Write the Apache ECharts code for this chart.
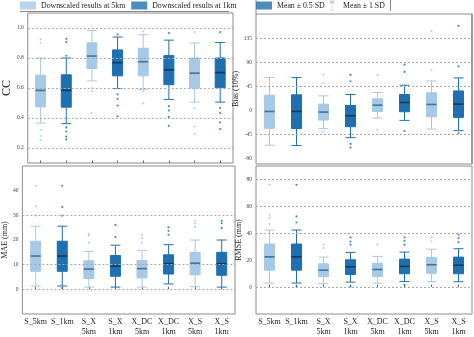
<!DOCTYPE html>
<html><head><meta charset="utf-8">
<script src="https://cdn.jsdelivr.net/npm/echarts@6/dist/echarts.min.js"></script>
<style>html,body{margin:0;padding:0;background:#fff}#c{width:474px;height:337px}</style>
</head><body><div id="c"></div>
<script>
const categories = ['S_5km','S_1km','S_X\n5km','S_X\n1km','X_DC\n5km','X_DC\n1km','X_S\n5km','X_S\n1km'];
const cats5 = [0,2,4,6];
const cats1 = [1,3,5,7];

// box values: [lower whisker, Q1, median, Q3, upper whisker]
const ccBox5 = [[0.366,0.474,0.584,0.685,0.80],[0.647,0.73,0.813,0.901,0.984],[0.591,0.681,0.775,0.865,0.955],[0.506,0.60,0.699,0.80,0.90]];
const ccBox1 = [[0.362,0.472,0.584,0.688,0.80],[0.596,0.681,0.769,0.854,0.94],[0.524,0.622,0.721,0.816,0.919],[0.506,0.602,0.703,0.80,0.903]];
const ccOut5 = [[0.924,0.90,0.32,0.28,0.254],[0.60,0.58,0.434],[0.978,0.578,0.497],[0.973,0.465,0.344,0.294]];
const ccOut1 = [[0.928,0.906,0.815,0.337,0.31,0.276,0.258],[0.957,0.557,0.528,0.483,0.411],[0.966,0.479,0.45,0.407,0.348],[0.973,0.467,0.434,0.371,0.326]];

const biasBox5 = [[-65,-33.4,-1.9,28.5,61.3],[-34,-18,-3.1,11.8,27.2],[-14.2,-1.9,9.9,21.7,33.4],[-34.7,-11.8,11.1,32.8,55]];
const biasBox1 = [[-65.6,-34,-1.9,29.1,61.3],[-50.8,-30.3,-9.9,9.3,29.7],[-18.6,-2.5,14.9,29.7,47],[-37.8,-13,11.8,36.5,60.7]];
const biasOut5 = [[],[66.9,51,-39.6],[66.3,-36.5],[75,148]];
const biasOut1 = [[],[66.3,54.5,-62.5,-69.4],[85.5,71.8,-38.4],[82.4,158,-42.7]];

const maeBox5 = [[1.35,7.3,13.5,19.5,25.6],[0.9,4.4,8.2,11.6,15.4],[0.9,4.6,8.4,11.7,15.8],[1.1,5.9,10.6,15.0,20.0]];
const maeBox1 = [[1.35,7.3,13.5,19.5,25.6],[0.9,5.3,9.4,13.7,17.9],[2.2,6.2,10.4,14.0,18.1],[0.9,5.7,10.4,15.0,20.0]];
const maeOut5 = [[42,33.6,29.9],[22.5,21.8,18.9],[22.1,20.8,18.9],[27.8,26.7,25.3]];
const maeOut1 = [[42,33.4,29.9,0.5],[26.1,21.2],[25.1,23.7,22.1],[27.8,26.8,24.8]];

const rmseBox5 = [[3,12.6,22.5,32,42.4],[2.5,7.7,12.6,17.3,22.3],[3,7.9,13.1,17.8,22.8],[4.2,10.2,16.6,22,28.2]];
const rmseBox1 = [[3,12.6,22.5,32,42.4],[3.7,9.4,15.1,20.3,25.8],[4.2,9.9,15.4,20.8,26],[4,9.9,16.3,22.3,28.5]];
const rmseOut5 = [[76,53.7,51.3,46.8],[31.5,29],[31.5],[36.9,33.9]];
const rmseOut1 = [[76,52.5,48,0.5],[36.9,33.9,31.5,0.5],[36.9,34.4,31.5,1.7],[38.9,36.4,33.4]];

const ccTicks = [0.2,0.4,0.6,0.8,1.0];
const biasTicks = [-90,-45,0,45,90,135];
const maeTicks = [0,10,20,30,40];
const rmseTicks = [0,20,40,60,80];

const ccGrid = [0.2,0.4,0.6,0.8,1.0];
const biasGrid = [-45,45,90,135];
const maeGrid = [0,10,30];
const rmseGrid = [0,40,60,80];

const LIGHT = '#a6c9e6', DARK = '#1f70b0';
const MED_L = '#2a5e88', MED_D = '#0c2c48';
const FONT = 'Liberation Serif';
const NAME5 = 'Downscaled results at 5km', NAME1 = 'Downscaled results at 1km';

function medData(arr, cats){ return arr.map((b,i)=>[cats[i], b[2]]); }
function outData(arr, cats){ const r=[]; arr.forEach((vs,i)=>vs.forEach(v=>r.push([cats[i], v]))); return r; }
function near(v, list){ for (const t of list) if (Math.abs(v-t) < 1e-6) return t; return null; }
function boxItems(b5, b1){
  const items = new Array(categories.length);
  b5.forEach((b,i)=>{ items[cats5[i]] = {value:b, itemStyle:{color:LIGHT, borderColor:LIGHT}}; });
  b1.forEach((b,i)=>{ items[cats1[i]] = {value:b, itemStyle:{color:DARK, borderColor:DARK}}; });
  return items;
}

const grids = [
  {left:18, top:13, width:215, height:150},
  {left:256, top:14, width:216, height:150},
  {left:18, top:166, width:217, height:148},
  {left:256, top:166, width:216, height:148}
].map(g=>Object.assign({show:true, borderColor:'#8c8c8c', borderWidth:1, backgroundColor:'transparent'}, g));

const xAxes = [0,1,2,3].map(i=>({
  type:'category', gridIndex:i, data:categories, boundaryGap:true,
  axisLine:{show:false},
  axisTick:{show:true, inside:true, alignWithLabel:true, length:2.5, lineStyle:{color:'#666'}},
  axisLabel:{show: i>=2, fontFamily:FONT, fontSize:8, color:'#222', margin:3, lineHeight:10, interval:0},
  splitLine:{show:false}
}));

function yAx(i, name, min, max, interval, ticks, fmt, nameSize, nameGap){
  return {
    type:'value', gridIndex:i, min:min, max:max, interval:interval,
    name:name, nameLocation:'middle', nameGap:nameGap,
    nameTextStyle:{fontFamily:FONT, fontSize:nameSize, color:'#222'},
    axisLine:{show:false}, axisTick:{show:false}, splitLine:{show:false},
    axisLabel:{fontFamily:FONT, fontSize:5.5, color:'#444', margin:4,
      formatter:function(v){ const t = near(v, ticks); return t===null ? '' : fmt(t); }}
  };
}
const yAxes = [
  yAx(0,'CC',0.1,1.1,0.1,ccTicks,t=>t.toFixed(1),12,5),
  yAx(1,'Bias (10%)',-100,180,5,biasTicks,t=>String(t),8,9),
  yAx(2,'MAE (mm)',-10,50,10,maeTicks,t=>String(t),8,7),
  yAx(3,'RMSE (mm)',-20,90,10,rmseTicks,t=>String(t),8,9)
];

const panels = [
  [ccBox5, ccBox1, ccOut5, ccOut1, ccGrid],
  [biasBox5, biasBox1, biasOut5, biasOut1, biasGrid],
  [maeBox5, maeBox1, maeOut5, maeOut1, maeGrid],
  [rmseBox5, rmseBox1, rmseOut5, rmseOut1, rmseGrid]
];

const series = [
  {type:'scatter', name:NAME5, xAxisIndex:0, yAxisIndex:0, data:[], itemStyle:{color:LIGHT}},
  {type:'scatter', name:NAME1, xAxisIndex:0, yAxisIndex:0, data:[], itemStyle:{color:DARK}},
  {type:'scatter', name:'Mean \u00b1 0.5 SD', xAxisIndex:0, yAxisIndex:0, data:[], itemStyle:{color:DARK}},
  {type:'scatter', name:'Mean \u00b1 1 SD', xAxisIndex:0, yAxisIndex:0, data:[], itemStyle:{color:LIGHT}}
];
panels.forEach((p, i)=>{
  const [b5, b1, o5, o1, gl] = p;
  series.push({
    type:'scatter', name:'grid'+i, xAxisIndex:i, yAxisIndex:i, data:[], z:1, silent:true,
    markLine:{silent:true, symbol:'none', label:{show:false}, animation:false,
      lineStyle:{type:[2,2], color:'#a8a8a8', width:1},
      data: gl.map(v=>({yAxis:v}))}
  });
  series.push({
    type:'boxplot', name:'box'+i, xAxisIndex:i, yAxisIndex:i, z:3,
    data: boxItems(b5, b1), boxWidth:[10,10],
    itemStyle:{borderWidth:1}
  });
  [[b5, cats5, LIGHT, MED_L, o5, 'l'],[b1, cats1, DARK, MED_D, o1, 'd']].forEach(([b, cats, col, med, o, tag])=>{
    series.push({
      type:'scatter', name:'med'+tag+i, xAxisIndex:i, yAxisIndex:i, z:4,
      symbol:'rect', symbolSize:[10,1.6], data: medData(b, cats),
      itemStyle:{color:med}
    });
    series.push({
      type:'scatter', name:'out'+tag+i, xAxisIndex:i, yAxisIndex:i, z:2,
      symbol:'circle', symbolSize:2.2, data: outData(o, cats),
      itemStyle:{color:col}
    });
  });
});

const legText = {fontFamily:FONT, fontSize:7.8, color:'#222'};
const option = {
  animation:false,
  grid: grids, xAxis: xAxes, yAxis: yAxes, series: series,
  legend: [
    {left:20, top:1.5, padding:0, itemWidth:16, itemHeight:8, itemGap:6, textStyle:legText, selectedMode:false,
      data:[{name:NAME5, icon:'rect'},{name:NAME1, icon:'rect'}]},
    {left:256, top:1.5, padding:0, itemWidth:16, itemHeight:8, textStyle:legText, selectedMode:false,
      data:[{name:'Mean \u00b1 0.5 SD', icon:'rect'}]},
    {left:330, top:0.5, padding:0, itemWidth:12, itemHeight:10, textStyle:legText, selectedMode:false,
      data:[{name:'Mean \u00b1 1 SD', icon:'path://M0,0H8V6H4.6V18H7V19.5H1V18H3.4V6H0Z'}]}
  ],
  graphic: [
    {type:'line', shape:{x1:20, y1:11.5, x2:229, y2:11.5}, style:{stroke:'#8c8c8c', lineWidth:1}, silent:true},
    {type:'line', shape:{x1:390.5, y1:0, x2:390.5, y2:11}, style:{stroke:'#8c8c8c', lineWidth:1}, silent:true},
    {type:'line', shape:{x1:256, y1:0, x2:256, y2:14}, style:{stroke:'#8c8c8c', lineWidth:1}, silent:true},
    {type:'line', shape:{x1:472, y1:14, x2:472, y2:164}, style:{stroke:'#9a9a9a', lineWidth:2}, silent:true}
  ]
};
const chart = echarts.init(document.getElementById('c'), null, {renderer:'canvas'});
chart.setOption(option);
</script></body></html>
